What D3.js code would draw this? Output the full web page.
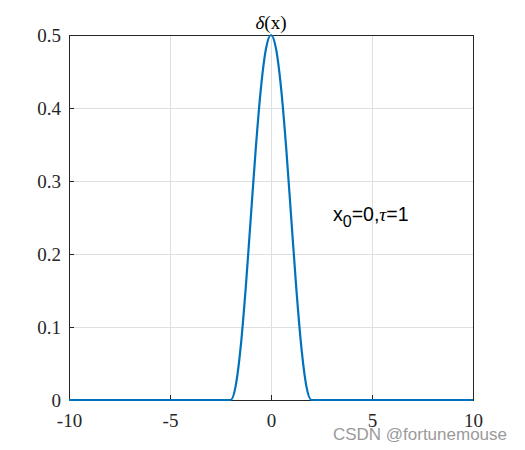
<!DOCTYPE html>
<html><head><meta charset="utf-8">
<script src="https://cdn.jsdelivr.net/npm/d3@7"></script>
<style>body{margin:0;background:#fff}</style>
</head><body>
<svg id="c" width="525" height="450"></svg>
<script>
const xs = [-10, -2, -1.75, -1.5, -1.25, -1, -0.75, -0.5, -0.25, 0, 0.25, 0.5, 0.75, 1, 1.25, 1.5, 1.75, 2, 10];
const ys = [0, 0, 0.019, 0.073, 0.154, 0.25, 0.346, 0.427, 0.481, 0.5, 0.481, 0.427, 0.346, 0.25, 0.154, 0.073, 0.019, 0, 0];
const xTicks = [-10, -5, 0, 5, 10];
const xTickLabels = ["-10", "-5", "0", "5", "10"];
const yTicks = [0, 0.1, 0.2, 0.3, 0.4, 0.5];
const yTickLabels = ["0", "0.1", "0.2", "0.3", "0.4", "0.5"];

const svg = d3.select("#c");
const L = 69, R = 473, T = 35, B = 400;
const x = d3.scaleLinear().domain([-10, 10]).range([L, R]);
const y = d3.scaleLinear().domain([0, 0.5]).range([B, T]);
const serif = "'Liberation Serif','Times New Roman',serif";

// grid
svg.append("g").selectAll("line.gx").data(xTicks.slice(1, -1)).join("line")
  .attr("x1", d => x(d)).attr("x2", d => x(d)).attr("y1", T).attr("y2", B)
  .attr("stroke", "#dfdfdf").attr("stroke-width", 1).attr("shape-rendering", "crispEdges");
svg.append("g").selectAll("line.gy").data(yTicks.slice(1, -1)).join("line")
  .attr("y1", d => y(d)).attr("y2", d => y(d)).attr("x1", L).attr("x2", R)
  .attr("stroke", "#dfdfdf").attr("stroke-width", 1).attr("shape-rendering", "crispEdges");

// axes
const xa = svg.append("g").attr("transform", `translate(0,${B})`)
  .call(d3.axisBottom(x).tickValues(xTicks).tickSize(-5).tickPadding(10).tickFormat((d, i) => xTickLabels[i]));
const ya = svg.append("g").attr("transform", `translate(${L},0)`)
  .call(d3.axisLeft(y).tickValues(yTicks).tickSize(-5).tickPadding(8).tickFormat((d, i) => yTickLabels[i]));
[xa, ya].forEach(a => {
  a.select(".domain").remove();
  a.selectAll("line").attr("stroke", "#262626");
  a.selectAll("text").attr("font-family", serif).attr("font-size", 19).attr("fill", "#262626");
});
xa.selectAll("text").attr("dy", "0.9em");
// box
svg.append("rect").attr("x", L).attr("y", T).attr("width", R - L).attr("height", B - T)
  .attr("fill", "none").attr("stroke", "#262626").attr("stroke-width", 1).attr("shape-rendering", "crispEdges");

// curve
const pts = xs.map((d, i) => [d, ys[i]]);
svg.append("path").datum(pts)
  .attr("d", d3.line().x(d => x(d[0])).y(d => y(d[1])).curve(d3.curveMonotoneX))
  .attr("fill", "none").attr("stroke", "#0072BD").attr("stroke-width", 2.2);

// title
const t = svg.append("text").attr("x", x(0)).attr("y", 29).attr("text-anchor", "middle")
  .attr("font-family", serif).attr("font-size", 19).attr("fill", "#000");
t.append("tspan").attr("font-style", "italic").text("δ");
t.append("tspan").text("(x)");

// annotation
const a = svg.append("text").attr("x", 333).attr("y", 221)
  .attr("font-family", "'Liberation Sans',Arial,sans-serif").attr("font-size", 19.5).attr("fill", "#000");
a.append("tspan").text("x");
a.append("tspan").attr("font-size", 16).attr("dy", 6).text("0");
a.append("tspan").attr("dy", -6).text("=0,");
a.append("tspan").attr("font-family", serif).attr("font-style", "italic").text("τ");
a.append("tspan").text("=1");

// watermark
svg.append("text").attr("x", 507).attr("y", 440).attr("text-anchor", "end")
  .attr("font-family", "'Liberation Sans',Arial,sans-serif").attr("font-size", 17)
  .attr("fill", "#9a9a9a").text("CSDN @fortunemouse");
</script>
</body></html>
